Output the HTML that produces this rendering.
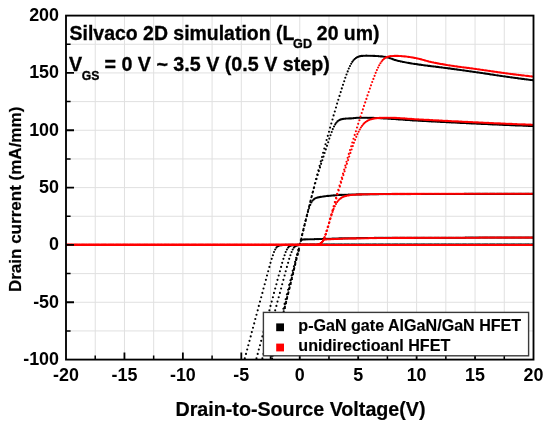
<!DOCTYPE html>
<html><head><meta charset="utf-8"><style>
html,body{margin:0;padding:0;background:#fff;}
svg{display:block;}
text{font-family:"Liberation Sans",Arial,sans-serif;font-weight:bold;fill:#000;}
</style></head><body>
<svg width="550" height="424" viewBox="0 0 550 424">
<rect width="550" height="424" fill="#fff"/>
<path d="M95.22 15.6V359.6M124.44 15.6V359.6M153.66 15.6V359.6M182.88 15.6V359.6M212.09 15.6V359.6M241.31 15.6V359.6M270.53 15.6V359.6M299.75 15.6V359.6M328.97 15.6V359.6M358.19 15.6V359.6M387.41 15.6V359.6M416.62 15.6V359.6M445.84 15.6V359.6M475.06 15.6V359.6M504.28 15.6V359.6M66.0 330.93H533.5M66.0 302.27H533.5M66.0 273.60H533.5M66.0 244.93H533.5M66.0 216.27H533.5M66.0 187.60H533.5M66.0 158.93H533.5M66.0 130.27H533.5M66.0 101.60H533.5M66.0 72.93H533.5M66.0 44.27H533.5" stroke="#e0e0e0" stroke-width="1" fill="none"/>
<clipPath id="c"><rect x="66.0" y="15.6" width="467.5" height="344.0"/></clipPath>
<g clip-path="url(#c)">
<g stroke="#000" stroke-width="2.15" stroke-linecap="round" fill="none"><path d="M244.8 358.2h0M246.0 353.9h0M247.2 349.5h0M248.3 345.2h0M249.5 340.8h0M250.7 336.4h0M251.8 332.1h0M253.0 327.7h0M254.2 323.4h0M255.3 319.0h0M256.5 314.7h0M257.7 310.3h0M258.8 305.9h0M260.0 301.6h0M261.2 297.2h0M262.4 292.9h0M263.5 288.5h0M264.7 284.2h0M265.9 279.8h0M267.0 275.5h0M268.2 271.2h0M269.4 266.9h0M270.5 262.8h0M271.7 258.8h0M272.9 255.2h0M274.0 252.0h0M275.2 249.5h0M276.4 247.6h0M277.5 246.5h0M278.7 245.8h0M279.9 245.4h0M281.1 245.2h0M282.2 245.1h0M283.4 245.0h0M284.6 245.0h0M285.7 244.9h0M286.9 244.9h0M288.1 244.9h0M289.2 244.9h0M290.4 244.9h0M291.6 244.9h0M292.7 244.9h0M293.9 244.9h0M295.1 244.9h0M296.2 244.9h0M297.4 244.9h0M298.6 244.9h0M299.8 244.9h0M300.9 244.9h0M302.1 244.9h0M303.3 244.9h0M304.4 244.9h0M305.6 244.9h0M306.8 244.9h0M307.9 244.9h0M309.1 244.9h0M310.3 244.9h0M311.4 244.9h0M312.6 244.9h0M313.8 244.9h0M314.9 244.9h0M316.1 244.9h0M317.3 244.9h0M318.4 244.9h0M319.6 244.9h0M320.8 244.9h0M322.0 244.9h0M323.1 244.9h0M324.3 244.9h0M325.5 244.9h0M326.6 244.9h0M327.8 244.9h0M329.0 244.9h0M330.1 244.9h0M331.3 244.9h0M332.5 244.9h0M333.6 244.9h0M334.8 244.9h0M336.0 244.9h0M337.1 244.9h0M338.3 244.9h0M339.5 244.9h0M340.7 244.9h0M341.8 244.9h0M343.0 244.9h0M344.2 244.9h0M345.3 244.9h0M346.5 244.9h0M347.7 244.9h0M348.8 244.9h0M350.0 244.9h0M351.2 244.9h0M352.3 244.9h0M353.5 244.9h0M354.7 244.9h0M355.9 244.9h0M357.0 244.9h0M358.2 244.9h0M359.4 244.9h0M360.5 244.9h0M361.7 244.9h0M362.9 244.9h0M364.0 244.9h0M365.2 244.9h0M366.4 244.9h0M367.5 244.9h0M368.7 244.9h0M369.9 244.9h0M371.0 244.9h0M372.2 244.9h0M373.4 244.9h0M374.6 244.9h0M375.7 244.9h0M376.9 244.9h0M378.1 244.9h0M379.2 244.9h0M380.4 244.9h0M381.6 244.9h0M382.7 244.9h0M383.9 244.9h0M385.1 244.9h0M386.2 244.9h0M387.4 244.9h0M388.6 244.9h0M389.7 244.9h0M390.9 244.9h0M392.1 244.9h0M393.2 244.9h0M394.4 244.9h0M395.6 244.9h0M396.8 244.9h0M397.9 244.9h0M399.1 244.9h0M400.3 244.9h0M401.4 244.9h0M402.6 244.9h0M403.8 244.9h0M404.9 244.9h0M406.1 244.9h0M407.3 244.9h0M408.4 244.9h0M409.6 244.9h0M410.8 244.9h0M411.9 244.9h0M413.1 244.9h0M414.3 244.9h0M415.5 244.9h0M416.6 244.9h0M417.8 244.9h0M419.0 244.9h0M420.1 244.9h0M421.3 244.9h0M422.5 244.9h0M423.6 244.9h0M424.8 244.9h0M426.0 244.9h0M427.1 244.9h0M428.3 244.9h0M429.5 244.9h0M430.6 244.9h0M431.8 244.9h0M433.0 244.9h0M434.2 244.9h0M435.3 244.9h0M436.5 244.9h0M437.7 244.9h0M438.8 244.9h0M440.0 244.9h0M441.2 244.9h0M442.3 244.9h0M443.5 244.9h0M444.7 244.9h0M445.8 244.9h0M447.0 244.9h0M448.2 244.9h0M449.3 244.9h0M450.5 244.9h0M451.7 244.9h0M452.9 244.9h0M454.0 244.9h0M455.2 244.9h0M456.4 244.9h0M457.5 244.9h0M458.7 244.9h0M459.9 244.9h0M461.0 244.9h0M462.2 244.9h0M463.4 244.9h0M464.5 244.9h0M465.7 244.9h0M466.9 244.9h0M468.1 244.9h0M469.2 244.9h0M470.4 244.9h0M471.6 244.9h0M472.7 244.9h0M473.9 244.9h0M475.1 244.9h0M476.2 244.9h0M477.4 244.9h0M478.6 244.9h0M479.7 244.9h0M480.9 244.9h0M482.1 244.9h0M483.2 244.9h0M484.4 244.9h0M485.6 244.9h0M486.8 244.9h0M487.9 244.9h0M489.1 244.9h0M490.3 244.9h0M491.4 244.9h0M492.6 244.9h0M493.8 244.9h0M494.9 244.9h0M496.1 244.9h0M497.3 244.9h0M498.4 244.9h0M499.6 244.9h0M500.8 244.9h0M501.9 244.9h0M503.1 244.9h0M504.3 244.9h0M505.4 244.9h0M506.6 244.9h0M507.8 244.9h0M509.0 244.9h0M510.1 244.9h0M511.3 244.9h0M512.5 244.9h0M513.6 244.9h0M514.8 244.9h0M516.0 244.9h0M517.1 244.9h0M518.3 244.9h0M519.5 244.9h0M520.6 244.9h0M521.8 244.9h0M523.0 244.9h0M524.1 244.9h0M525.3 244.9h0M526.5 244.9h0M527.7 244.9h0M528.8 244.9h0M530.0 244.9h0M531.2 244.9h0M532.3 244.9h0M533.5 244.9h0"/><path d="M256.5 358.2h0M257.7 353.9h0M258.8 349.5h0M260.0 345.2h0M261.2 340.8h0M262.4 336.4h0M263.5 332.1h0M264.7 327.7h0M265.9 323.4h0M267.0 319.0h0M268.2 314.7h0M269.4 310.3h0M270.5 305.9h0M271.7 301.6h0M272.9 297.2h0M274.0 292.9h0M275.2 288.5h0M276.4 284.2h0M277.5 279.8h0M278.7 275.5h0M279.9 271.2h0M281.1 266.9h0M282.2 262.8h0M283.4 258.8h0M284.6 255.2h0M285.7 252.0h0M286.9 249.5h0M288.1 247.6h0M289.2 246.5h0M290.4 245.8h0M291.6 245.4h0M292.7 245.2h0M293.9 245.1h0M295.1 245.0h0M296.2 245.0h0M297.4 244.9h0M298.6 244.9h0M299.8 244.9h0M300.9 244.9h0M302.1 244.9h0M303.3 244.9h0M304.4 244.9h0M305.6 244.9h0M306.8 244.9h0M307.9 244.9h0M309.1 244.9h0M310.3 244.9h0M311.4 244.9h0M312.6 244.9h0M313.8 244.9h0M314.9 244.9h0M316.1 244.9h0M317.3 244.9h0M318.4 244.9h0M319.6 244.9h0M320.8 244.9h0M322.0 244.9h0M323.1 244.9h0M324.3 244.9h0M325.5 244.9h0M326.6 244.9h0M327.8 244.9h0M329.0 244.9h0M330.1 244.9h0M331.3 244.9h0M332.5 244.9h0M333.6 244.9h0M334.8 244.9h0M336.0 244.9h0M337.1 244.9h0M338.3 244.9h0M339.5 244.9h0M340.7 244.9h0M341.8 244.9h0M343.0 244.9h0M344.2 244.9h0M345.3 244.9h0M346.5 244.9h0M347.7 244.9h0M348.8 244.9h0M350.0 244.9h0M351.2 244.9h0M352.3 244.9h0M353.5 244.9h0M354.7 244.9h0M355.9 244.9h0M357.0 244.9h0M358.2 244.9h0M359.4 244.9h0M360.5 244.9h0M361.7 244.9h0M362.9 244.9h0M364.0 244.9h0M365.2 244.9h0M366.4 244.9h0M367.5 244.9h0M368.7 244.9h0M369.9 244.9h0M371.0 244.9h0M372.2 244.9h0M373.4 244.9h0M374.6 244.9h0M375.7 244.9h0M376.9 244.9h0M378.1 244.9h0M379.2 244.9h0M380.4 244.9h0M381.6 244.9h0M382.7 244.9h0M383.9 244.9h0M385.1 244.9h0M386.2 244.9h0M387.4 244.9h0M388.6 244.9h0M389.7 244.9h0M390.9 244.9h0M392.1 244.9h0M393.2 244.9h0M394.4 244.9h0M395.6 244.9h0M396.8 244.9h0M397.9 244.9h0M399.1 244.9h0M400.3 244.9h0M401.4 244.9h0M402.6 244.9h0M403.8 244.9h0M404.9 244.9h0M406.1 244.9h0M407.3 244.9h0M408.4 244.9h0M409.6 244.9h0M410.8 244.9h0M411.9 244.9h0M413.1 244.9h0M414.3 244.9h0M415.5 244.9h0M416.6 244.9h0M417.8 244.9h0M419.0 244.9h0M420.1 244.9h0M421.3 244.9h0M422.5 244.9h0M423.6 244.9h0M424.8 244.9h0M426.0 244.9h0M427.1 244.9h0M428.3 244.9h0M429.5 244.9h0M430.6 244.9h0M431.8 244.9h0M433.0 244.9h0M434.2 244.9h0M435.3 244.9h0M436.5 244.9h0M437.7 244.9h0M438.8 244.9h0M440.0 244.9h0M441.2 244.9h0M442.3 244.9h0M443.5 244.9h0M444.7 244.9h0M445.8 244.9h0M447.0 244.9h0M448.2 244.9h0M449.3 244.9h0M450.5 244.9h0M451.7 244.9h0M452.9 244.9h0M454.0 244.9h0M455.2 244.9h0M456.4 244.9h0M457.5 244.9h0M458.7 244.9h0M459.9 244.9h0M461.0 244.9h0M462.2 244.9h0M463.4 244.9h0M464.5 244.9h0M465.7 244.9h0M466.9 244.9h0M468.1 244.9h0M469.2 244.9h0M470.4 244.9h0M471.6 244.9h0M472.7 244.9h0M473.9 244.9h0M475.1 244.9h0M476.2 244.9h0M477.4 244.9h0M478.6 244.9h0M479.7 244.9h0M480.9 244.9h0M482.1 244.9h0M483.2 244.9h0M484.4 244.9h0M485.6 244.9h0M486.8 244.9h0M487.9 244.9h0M489.1 244.9h0M490.3 244.9h0M491.4 244.9h0M492.6 244.9h0M493.8 244.9h0M494.9 244.9h0M496.1 244.9h0M497.3 244.9h0M498.4 244.9h0M499.6 244.9h0M500.8 244.9h0M501.9 244.9h0M503.1 244.9h0M504.3 244.9h0M505.4 244.9h0M506.6 244.9h0M507.8 244.9h0M509.0 244.9h0M510.1 244.9h0M511.3 244.9h0M512.5 244.9h0M513.6 244.9h0M514.8 244.9h0M516.0 244.9h0M517.1 244.9h0M518.3 244.9h0M519.5 244.9h0M520.6 244.9h0M521.8 244.9h0M523.0 244.9h0M524.1 244.9h0M525.3 244.9h0M526.5 244.9h0M527.7 244.9h0M528.8 244.9h0M530.0 244.9h0M531.2 244.9h0M532.3 244.9h0M533.5 244.9h0"/><path d="M262.4 358.2h0M263.5 353.9h0M264.7 349.5h0M265.9 345.2h0M267.0 340.8h0M268.2 336.4h0M269.4 332.1h0M270.5 327.7h0M271.7 323.4h0M272.9 319.0h0M274.0 314.7h0M275.2 310.3h0M276.4 305.9h0M277.5 301.6h0M278.7 297.2h0M279.9 292.9h0M281.1 288.5h0M282.2 284.2h0M283.4 279.8h0M284.6 275.5h0M285.7 271.2h0M286.9 266.9h0M288.1 262.8h0M289.2 258.8h0M290.4 255.2h0M291.6 252.0h0M292.7 249.5h0M293.9 247.6h0M295.1 246.5h0M296.2 245.8h0M297.4 245.4h0M298.6 245.2h0M299.8 244.9h0M300.9 244.9h0M302.1 244.9h0M303.3 244.9h0M304.4 244.9h0M305.6 244.9h0M306.8 244.9h0M307.9 244.9h0M309.1 244.9h0M310.3 244.9h0M311.4 244.9h0M312.6 244.9h0M313.8 244.9h0M314.9 244.9h0M316.1 244.9h0M317.3 244.9h0M318.4 244.9h0M319.6 244.9h0M320.8 244.9h0M322.0 244.9h0M323.1 244.9h0M324.3 244.9h0M325.5 244.9h0M326.6 244.9h0M327.8 244.9h0M329.0 244.9h0M330.1 244.9h0M331.3 244.9h0M332.5 244.9h0M333.6 244.9h0M334.8 244.9h0M336.0 244.9h0M337.1 244.9h0M338.3 244.9h0M339.5 244.9h0M340.7 244.9h0M341.8 244.9h0M343.0 244.9h0M344.2 244.9h0M345.3 244.9h0M346.5 244.9h0M347.7 244.9h0M348.8 244.9h0M350.0 244.9h0M351.2 244.9h0M352.3 244.9h0M353.5 244.9h0M354.7 244.9h0M355.9 244.9h0M357.0 244.9h0M358.2 244.9h0M359.4 244.9h0M360.5 244.9h0M361.7 244.9h0M362.9 244.9h0M364.0 244.9h0M365.2 244.9h0M366.4 244.9h0M367.5 244.9h0M368.7 244.9h0M369.9 244.9h0M371.0 244.9h0M372.2 244.9h0M373.4 244.9h0M374.6 244.9h0M375.7 244.9h0M376.9 244.9h0M378.1 244.9h0M379.2 244.9h0M380.4 244.9h0M381.6 244.9h0M382.7 244.9h0M383.9 244.9h0M385.1 244.9h0M386.2 244.9h0M387.4 244.9h0M388.6 244.9h0M389.7 244.9h0M390.9 244.9h0M392.1 244.9h0M393.2 244.9h0M394.4 244.9h0M395.6 244.9h0M396.8 244.9h0M397.9 244.9h0M399.1 244.9h0M400.3 244.9h0M401.4 244.9h0M402.6 244.9h0M403.8 244.9h0M404.9 244.9h0M406.1 244.9h0M407.3 244.9h0M408.4 244.9h0M409.6 244.9h0M410.8 244.9h0M411.9 244.9h0M413.1 244.9h0M414.3 244.9h0M415.5 244.9h0M416.6 244.9h0M417.8 244.9h0M419.0 244.9h0M420.1 244.9h0M421.3 244.9h0M422.5 244.9h0M423.6 244.9h0M424.8 244.9h0M426.0 244.9h0M427.1 244.9h0M428.3 244.9h0M429.5 244.9h0M430.6 244.9h0M431.8 244.9h0M433.0 244.9h0M434.2 244.9h0M435.3 244.9h0M436.5 244.9h0M437.7 244.9h0M438.8 244.9h0M440.0 244.9h0M441.2 244.9h0M442.3 244.9h0M443.5 244.9h0M444.7 244.9h0M445.8 244.9h0M447.0 244.9h0M448.2 244.9h0M449.3 244.9h0M450.5 244.9h0M451.7 244.9h0M452.9 244.9h0M454.0 244.9h0M455.2 244.9h0M456.4 244.9h0M457.5 244.9h0M458.7 244.9h0M459.9 244.9h0M461.0 244.9h0M462.2 244.9h0M463.4 244.9h0M464.5 244.9h0M465.7 244.9h0M466.9 244.9h0M468.1 244.9h0M469.2 244.9h0M470.4 244.9h0M471.6 244.9h0M472.7 244.9h0M473.9 244.9h0M475.1 244.9h0M476.2 244.9h0M477.4 244.9h0M478.6 244.9h0M479.7 244.9h0M480.9 244.9h0M482.1 244.9h0M483.2 244.9h0M484.4 244.9h0M485.6 244.9h0M486.8 244.9h0M487.9 244.9h0M489.1 244.9h0M490.3 244.9h0M491.4 244.9h0M492.6 244.9h0M493.8 244.9h0M494.9 244.9h0M496.1 244.9h0M497.3 244.9h0M498.4 244.9h0M499.6 244.9h0M500.8 244.9h0M501.9 244.9h0M503.1 244.9h0M504.3 244.9h0M505.4 244.9h0M506.6 244.9h0M507.8 244.9h0M509.0 244.9h0M510.1 244.9h0M511.3 244.9h0M512.5 244.9h0M513.6 244.9h0M514.8 244.9h0M516.0 244.9h0M517.1 244.9h0M518.3 244.9h0M519.5 244.9h0M520.6 244.9h0M521.8 244.9h0M523.0 244.9h0M524.1 244.9h0M525.3 244.9h0M526.5 244.9h0M527.7 244.9h0M528.8 244.9h0M530.0 244.9h0M531.2 244.9h0M532.3 244.9h0M533.5 244.9h0"/><path d="M271.7 356.3h0M272.9 351.5h0M274.0 346.8h0M275.2 342.0h0M276.4 337.3h0M277.5 332.5h0M278.7 327.7h0M279.9 323.0h0M281.1 318.2h0M282.2 313.5h0M283.4 308.7h0M284.6 303.9h0M285.7 299.2h0M286.9 294.4h0M288.1 289.7h0M289.2 284.9h0M290.4 280.2h0M291.6 275.5h0M292.7 270.8h0M293.9 266.2h0M295.1 261.8h0M296.2 257.7h0M297.4 254.0h0M298.6 250.9h0M299.8 244.9h0M300.9 244.9h0M302.1 244.9h0M303.3 244.9h0M304.4 244.9h0M305.6 244.9h0M306.8 244.9h0M307.9 244.9h0M309.1 244.9h0M310.3 244.9h0M311.4 244.9h0M312.6 244.9h0M313.8 244.9h0M314.9 244.9h0M316.1 244.9h0M317.3 244.9h0M318.4 244.9h0M319.6 244.9h0M320.8 244.9h0M322.0 244.9h0M323.1 244.9h0M324.3 244.9h0M325.5 244.9h0M326.6 244.9h0M327.8 244.9h0M329.0 244.9h0M330.1 244.9h0M331.3 244.9h0M332.5 244.9h0M333.6 244.9h0M334.8 244.9h0M336.0 244.9h0M337.1 244.9h0M338.3 244.9h0M339.5 244.9h0M340.7 244.9h0M341.8 244.9h0M343.0 244.9h0M344.2 244.9h0M345.3 244.9h0M346.5 244.9h0M347.7 244.9h0M348.8 244.9h0M350.0 244.9h0M351.2 244.9h0M352.3 244.9h0M353.5 244.9h0M354.7 244.9h0M355.9 244.9h0M357.0 244.9h0M358.2 244.9h0M359.4 244.9h0M360.5 244.9h0M361.7 244.9h0M362.9 244.9h0M364.0 244.9h0M365.2 244.9h0M366.4 244.9h0M367.5 244.9h0M368.7 244.9h0M369.9 244.9h0M371.0 244.9h0M372.2 244.9h0M373.4 244.9h0M374.6 244.9h0M375.7 244.9h0M376.9 244.9h0M378.1 244.9h0M379.2 244.9h0M380.4 244.9h0M381.6 244.9h0M382.7 244.9h0M383.9 244.9h0M385.1 244.9h0M386.2 244.9h0M387.4 244.9h0M388.6 244.9h0M389.7 244.9h0M390.9 244.9h0M392.1 244.9h0M393.2 244.9h0M394.4 244.9h0M395.6 244.9h0M396.8 244.9h0M397.9 244.9h0M399.1 244.9h0M400.3 244.9h0M401.4 244.9h0M402.6 244.9h0M403.8 244.9h0M404.9 244.9h0M406.1 244.9h0M407.3 244.9h0M408.4 244.9h0M409.6 244.9h0M410.8 244.9h0M411.9 244.9h0M413.1 244.9h0M414.3 244.9h0M415.5 244.9h0M416.6 244.9h0M417.8 244.9h0M419.0 244.9h0M420.1 244.9h0M421.3 244.9h0M422.5 244.9h0M423.6 244.9h0M424.8 244.9h0M426.0 244.9h0M427.1 244.9h0M428.3 244.9h0M429.5 244.9h0M430.6 244.9h0M431.8 244.9h0M433.0 244.9h0M434.2 244.9h0M435.3 244.9h0M436.5 244.9h0M437.7 244.9h0M438.8 244.9h0M440.0 244.9h0M441.2 244.9h0M442.3 244.9h0M443.5 244.9h0M444.7 244.9h0M445.8 244.9h0M447.0 244.9h0M448.2 244.9h0M449.3 244.9h0M450.5 244.9h0M451.7 244.9h0M452.9 244.9h0M454.0 244.9h0M455.2 244.9h0M456.4 244.9h0M457.5 244.9h0M458.7 244.9h0M459.9 244.9h0M461.0 244.9h0M462.2 244.9h0M463.4 244.9h0M464.5 244.9h0M465.7 244.9h0M466.9 244.9h0M468.1 244.9h0M469.2 244.9h0M470.4 244.9h0M471.6 244.9h0M472.7 244.9h0M473.9 244.9h0M475.1 244.9h0M476.2 244.9h0M477.4 244.9h0M478.6 244.9h0M479.7 244.9h0M480.9 244.9h0M482.1 244.9h0M483.2 244.9h0M484.4 244.9h0M485.6 244.9h0M486.8 244.9h0M487.9 244.9h0M489.1 244.9h0M490.3 244.9h0M491.4 244.9h0M492.6 244.9h0M493.8 244.9h0M494.9 244.9h0M496.1 244.9h0M497.3 244.9h0M498.4 244.9h0M499.6 244.9h0M500.8 244.9h0M501.9 244.9h0M503.1 244.9h0M504.3 244.9h0M505.4 244.9h0M506.6 244.9h0M507.8 244.9h0M509.0 244.9h0M510.1 244.9h0M511.3 244.9h0M512.5 244.9h0M513.6 244.9h0M514.8 244.9h0M516.0 244.9h0M517.1 244.9h0M518.3 244.9h0M519.5 244.9h0M520.6 244.9h0M521.8 244.9h0M523.0 244.9h0M524.1 244.9h0M525.3 244.9h0M526.5 244.9h0M527.7 244.9h0M528.8 244.9h0M530.0 244.9h0M531.2 244.9h0M532.3 244.9h0M533.5 244.9h0"/><path d="M271.7 360.0h0M272.9 355.3h0M274.0 350.6h0M275.2 345.9h0M276.4 341.3h0M277.5 336.5h0M278.7 331.8h0M279.9 327.1h0M281.1 322.4h0M282.2 317.6h0M283.4 312.8h0M284.6 308.1h0M285.7 303.3h0M286.9 298.5h0M288.1 293.7h0M289.2 288.8h0M290.4 284.0h0M291.6 279.2h0M292.7 274.3h0M293.9 269.4h0M295.1 264.6h0M296.2 259.7h0M297.4 254.8h0M298.6 249.9h0M299.8 244.9h0M300.9 241.0h0M302.1 239.8h0M303.3 239.5h0M304.4 239.4h0M305.6 239.3h0M306.8 239.3h0M307.9 239.3h0M309.1 239.2h0M310.3 239.2h0M311.4 239.2h0M312.6 239.2h0M313.8 239.2h0M314.9 239.1h0M316.1 239.1h0M317.3 239.1h0M318.4 239.1h0M319.6 239.0h0M320.8 239.0h0M322.0 239.0h0M323.1 238.9h0M324.3 238.9h0M325.5 238.9h0M326.6 238.8h0M327.8 238.8h0M329.0 238.7h0M330.1 238.7h0M331.3 238.7h0M332.5 238.6h0M333.6 238.6h0M334.8 238.6h0M336.0 238.5h0M337.1 238.5h0M338.3 238.5h0M339.5 238.4h0M340.7 238.4h0M341.8 238.4h0M343.0 238.3h0M344.2 238.3h0M345.3 238.3h0M346.5 238.3h0M347.7 238.3h0M348.8 238.2h0M350.0 238.2h0M351.2 238.2h0M352.3 238.2h0M353.5 238.2h0M354.7 238.2h0M355.9 238.2h0M357.0 238.1h0M358.2 238.1h0M359.4 238.1h0M360.5 238.1h0M361.7 238.1h0M362.9 238.1h0M364.0 238.1h0M365.2 238.0h0M366.4 238.0h0M367.5 238.0h0M368.7 238.0h0M369.9 238.0h0M371.0 238.0h0M372.2 238.0h0M373.4 238.0h0M374.6 237.9h0M375.7 237.9h0M376.9 237.9h0M378.1 237.9h0M379.2 237.9h0M380.4 237.9h0M381.6 237.9h0M382.7 237.9h0M383.9 237.9h0M385.1 237.9h0M386.2 237.9h0M387.4 237.8h0M388.6 237.8h0M389.7 237.8h0M390.9 237.8h0M392.1 237.8h0M393.2 237.8h0M394.4 237.8h0M395.6 237.8h0M396.8 237.8h0M397.9 237.8h0M399.1 237.8h0M400.3 237.8h0M401.4 237.8h0M402.6 237.8h0M403.8 237.8h0M404.9 237.8h0M406.1 237.8h0M407.3 237.8h0M408.4 237.8h0M409.6 237.8h0M410.8 237.8h0M411.9 237.8h0M413.1 237.8h0M414.3 237.8h0M415.5 237.8h0M416.6 237.8h0M417.8 237.8h0M419.0 237.7h0M420.1 237.7h0M421.3 237.7h0M422.5 237.7h0M423.6 237.7h0M424.8 237.7h0M426.0 237.7h0M427.1 237.7h0M428.3 237.7h0M429.5 237.7h0M430.6 237.7h0M431.8 237.7h0M433.0 237.7h0M434.2 237.7h0M435.3 237.7h0M436.5 237.7h0M437.7 237.7h0M438.8 237.7h0M440.0 237.7h0M441.2 237.7h0M442.3 237.7h0M443.5 237.7h0M444.7 237.7h0M445.8 237.7h0M447.0 237.7h0M448.2 237.7h0M449.3 237.7h0M450.5 237.7h0M451.7 237.7h0M452.9 237.7h0M454.0 237.7h0M455.2 237.7h0M456.4 237.7h0M457.5 237.7h0M458.7 237.7h0M459.9 237.7h0M461.0 237.7h0M462.2 237.7h0M463.4 237.7h0M464.5 237.7h0M465.7 237.6h0M466.9 237.6h0M468.1 237.6h0M469.2 237.6h0M470.4 237.6h0M471.6 237.6h0M472.7 237.6h0M473.9 237.6h0M475.1 237.6h0M476.2 237.6h0M477.4 237.6h0M478.6 237.6h0M479.7 237.6h0M480.9 237.6h0M482.1 237.6h0M483.2 237.6h0M484.4 237.6h0M485.6 237.6h0M486.8 237.6h0M487.9 237.6h0M489.1 237.6h0M490.3 237.6h0M491.4 237.6h0M492.6 237.6h0M493.8 237.6h0M494.9 237.6h0M496.1 237.6h0M497.3 237.6h0M498.4 237.6h0M499.6 237.6h0M500.8 237.6h0M501.9 237.6h0M503.1 237.6h0M504.3 237.6h0M505.4 237.6h0M506.6 237.6h0M507.8 237.6h0M509.0 237.6h0M510.1 237.6h0M511.3 237.6h0M512.5 237.6h0M513.6 237.6h0M514.8 237.6h0M516.0 237.6h0M517.1 237.6h0M518.3 237.6h0M519.5 237.6h0M520.6 237.6h0M521.8 237.6h0M523.0 237.6h0M524.1 237.6h0M525.3 237.6h0M526.5 237.6h0M527.7 237.6h0M528.8 237.6h0M530.0 237.6h0M531.2 237.6h0M532.3 237.6h0M533.5 237.6h0"/><path d="M271.7 360.0h0M272.9 355.3h0M274.0 350.6h0M275.2 345.9h0M276.4 341.3h0M277.5 336.5h0M278.7 331.8h0M279.9 327.1h0M281.1 322.4h0M282.2 317.6h0M283.4 312.8h0M284.6 308.1h0M285.7 303.3h0M286.9 298.5h0M288.1 293.7h0M289.2 288.8h0M290.4 284.0h0M291.6 279.2h0M292.7 274.3h0M293.9 269.4h0M295.1 264.6h0M296.2 259.7h0M297.4 254.8h0M298.6 249.9h0M299.8 244.9h0M300.9 240.0h0M302.1 235.1h0M303.3 230.3h0M304.4 225.5h0M305.6 220.8h0M306.8 216.2h0M307.9 211.9h0M309.1 208.0h0M310.3 204.8h0M311.4 202.4h0M312.6 200.6h0M313.8 199.4h0M314.9 198.6h0M316.1 198.0h0M317.3 197.6h0M318.4 197.3h0M319.6 197.1h0M320.8 196.9h0M322.0 196.7h0M323.1 196.5h0M324.3 196.3h0M325.5 196.2h0M326.6 196.0h0M327.8 195.9h0M329.0 195.8h0M330.1 195.7h0M331.3 195.6h0M332.5 195.5h0M333.6 195.4h0M334.8 195.3h0M336.0 195.2h0M337.1 195.1h0M338.3 195.0h0M339.5 194.9h0M340.7 194.9h0M341.8 194.8h0M343.0 194.8h0M344.2 194.8h0M345.3 194.7h0M346.5 194.7h0M347.7 194.7h0M348.8 194.6h0M350.0 194.6h0M351.2 194.6h0M352.3 194.5h0M353.5 194.5h0M354.7 194.5h0M355.9 194.5h0M357.0 194.4h0M358.2 194.4h0M359.4 194.4h0M360.5 194.4h0M361.7 194.3h0M362.9 194.3h0M364.0 194.3h0M365.2 194.3h0M366.4 194.3h0M367.5 194.3h0M368.7 194.2h0M369.9 194.2h0M371.0 194.2h0M372.2 194.2h0M373.4 194.2h0M374.6 194.2h0M375.7 194.2h0M376.9 194.2h0M378.1 194.2h0M379.2 194.1h0M380.4 194.1h0M381.6 194.1h0M382.7 194.1h0M383.9 194.1h0M385.1 194.1h0M386.2 194.1h0M387.4 194.1h0M388.6 194.1h0M389.7 194.1h0M390.9 194.1h0M392.1 194.1h0M393.2 194.1h0M394.4 194.1h0M395.6 194.1h0M396.8 194.1h0M397.9 194.1h0M399.1 194.1h0M400.3 194.1h0M401.4 194.1h0M402.6 194.1h0M403.8 194.1h0M404.9 194.1h0M406.1 194.1h0M407.3 194.1h0M408.4 194.1h0M409.6 194.1h0M410.8 194.1h0M411.9 194.0h0M413.1 194.0h0M414.3 194.0h0M415.5 194.0h0M416.6 194.0h0M417.8 194.0h0M419.0 194.0h0M420.1 194.0h0M421.3 194.0h0M422.5 194.0h0M423.6 194.0h0M424.8 194.0h0M426.0 194.0h0M427.1 194.0h0M428.3 194.0h0M429.5 194.0h0M430.6 194.0h0M431.8 194.0h0M433.0 194.0h0M434.2 194.0h0M435.3 194.0h0M436.5 194.0h0M437.7 194.0h0M438.8 194.0h0M440.0 194.0h0M441.2 194.0h0M442.3 194.0h0M443.5 194.0h0M444.7 194.0h0M445.8 194.0h0M447.0 194.0h0M448.2 194.0h0M449.3 194.0h0M450.5 194.0h0M451.7 194.0h0M452.9 194.0h0M454.0 194.0h0M455.2 194.0h0M456.4 194.0h0M457.5 194.0h0M458.7 194.0h0M459.9 194.0h0M461.0 194.0h0M462.2 194.0h0M463.4 194.0h0M464.5 193.9h0M465.7 193.9h0M466.9 193.9h0M468.1 193.9h0M469.2 193.9h0M470.4 193.9h0M471.6 193.9h0M472.7 193.9h0M473.9 193.9h0M475.1 193.9h0M476.2 193.9h0M477.4 193.9h0M478.6 193.9h0M479.7 193.9h0M480.9 193.9h0M482.1 193.9h0M483.2 193.9h0M484.4 193.9h0M485.6 193.9h0M486.8 193.9h0M487.9 193.9h0M489.1 193.9h0M490.3 193.9h0M491.4 193.9h0M492.6 193.9h0M493.8 193.9h0M494.9 193.9h0M496.1 193.9h0M497.3 193.9h0M498.4 193.9h0M499.6 193.9h0M500.8 193.9h0M501.9 193.9h0M503.1 193.9h0M504.3 193.9h0M505.4 193.9h0M506.6 193.9h0M507.8 193.9h0M509.0 193.9h0M510.1 193.9h0M511.3 193.9h0M512.5 193.9h0M513.6 193.9h0M514.8 193.9h0M516.0 193.9h0M517.1 193.9h0M518.3 193.9h0M519.5 193.9h0M520.6 193.9h0M521.8 193.9h0M523.0 193.9h0M524.1 193.9h0M525.3 193.9h0M526.5 193.9h0M527.7 193.9h0M528.8 193.9h0M530.0 193.9h0M531.2 193.9h0M532.3 193.9h0M533.5 193.9h0"/><path d="M272.1 358.6h0M273.2 353.9h0M274.4 349.2h0M275.6 344.5h0M276.7 339.8h0M277.9 335.1h0M279.1 330.4h0M280.2 325.7h0M281.4 320.9h0M282.6 316.2h0M283.7 311.4h0M284.9 306.6h0M286.1 301.8h0M287.2 297.0h0M288.4 292.2h0M289.6 287.4h0M290.8 282.6h0M291.9 277.7h0M293.1 272.9h0M294.3 268.0h0M295.4 263.1h0M296.6 258.2h0M297.8 253.3h0M298.9 248.5h0M300.1 243.5h0M301.3 238.6h0M302.4 233.7h0M303.6 228.8h0M304.8 224.0h0M305.9 219.3h0M307.1 214.5h0M308.3 209.8h0M309.5 205.2h0M310.6 200.6h0M311.8 196.1h0M313.0 191.6h0M314.1 187.3h0M315.3 183.0h0M316.5 178.9h0M317.6 174.9h0M318.8 171.1h0M320.0 167.4h0M321.1 163.8h0M322.3 160.2h0M323.5 156.6h0M324.6 153.0h0M325.8 149.4h0M327.0 145.8h0M328.2 142.2h0M329.3 138.6h0M330.5 135.2h0M331.7 132.0h0M332.8 129.1h0M334.0 126.5h0M335.2 124.4h0M336.3 122.7h0M337.5 121.4h0M338.7 120.5h0M339.8 119.9h0M341.0 119.4h0M342.2 119.1h0M343.3 118.9h0M344.5 118.7h0M345.7 118.6h0M346.9 118.5h0M348.0 118.5h0M349.2 118.4h0M350.4 118.4h0M351.5 118.3h0M352.7 118.2h0M353.9 118.1h0M355.0 118.0h0M356.2 117.8h0M357.4 117.7h0M358.5 117.7h0M359.7 117.7h0M360.9 117.7h0M362.0 117.7h0M363.2 117.7h0M364.4 117.7h0M365.6 117.7h0M366.7 117.7h0M367.9 117.8h0M369.1 117.8h0M370.2 117.8h0M371.4 117.9h0M372.6 117.9h0M373.7 117.9h0M374.9 118.0h0M376.1 118.0h0M377.2 118.0h0M378.4 118.1h0M379.6 118.1h0M380.7 118.2h0M381.9 118.3h0M383.1 118.3h0M384.3 118.4h0M385.4 118.4h0M386.6 118.5h0M387.8 118.6h0M388.9 118.7h0M390.1 118.7h0M391.3 118.8h0M392.4 118.9h0M393.6 119.0h0M394.8 119.0h0M395.9 119.1h0M397.1 119.2h0M398.3 119.3h0M399.4 119.4h0M400.6 119.5h0M401.8 119.5h0M403.0 119.6h0M404.1 119.7h0M405.3 119.8h0M406.5 119.9h0M407.6 120.0h0M408.8 120.0h0M410.0 120.1h0M411.1 120.2h0M412.3 120.3h0M413.5 120.4h0M414.6 120.4h0M415.8 120.5h0M417.0 120.6h0M418.1 120.6h0M419.3 120.7h0M420.5 120.8h0M421.7 120.8h0M422.8 120.9h0M424.0 121.0h0M425.2 121.0h0M426.3 121.1h0M427.5 121.1h0M428.7 121.2h0M429.8 121.3h0M431.0 121.3h0M432.2 121.4h0M433.3 121.4h0M434.5 121.5h0M435.7 121.6h0M436.8 121.6h0M438.0 121.7h0M439.2 121.7h0M440.4 121.8h0M441.5 121.9h0M442.7 121.9h0M443.9 122.0h0M445.0 122.0h0M446.2 122.1h0M447.4 122.2h0M448.5 122.2h0M449.7 122.3h0M450.9 122.3h0M452.0 122.4h0M453.2 122.5h0M454.4 122.5h0M455.5 122.6h0M456.7 122.6h0M457.9 122.7h0M459.1 122.8h0M460.2 122.8h0M461.4 122.9h0M462.6 122.9h0M463.7 123.0h0M464.9 123.0h0M466.1 123.1h0M467.2 123.2h0M468.4 123.2h0M469.6 123.3h0M470.7 123.3h0M471.9 123.4h0M473.1 123.4h0M474.2 123.5h0M475.4 123.5h0M476.6 123.6h0M477.8 123.7h0M478.9 123.7h0M480.1 123.8h0M481.3 123.8h0M482.4 123.9h0M483.6 123.9h0M484.8 124.0h0M485.9 124.0h0M487.1 124.1h0M488.3 124.1h0M489.4 124.2h0M490.6 124.3h0M491.8 124.3h0M492.9 124.4h0M494.1 124.4h0M495.3 124.5h0M496.5 124.5h0M497.6 124.6h0M498.8 124.6h0M500.0 124.7h0M501.1 124.7h0M502.3 124.8h0M503.5 124.8h0M504.6 124.9h0M505.8 124.9h0M507.0 125.0h0M508.1 125.0h0M509.3 125.1h0M510.5 125.1h0M511.6 125.2h0M512.8 125.2h0M514.0 125.3h0M515.2 125.3h0M516.3 125.4h0M517.5 125.4h0M518.7 125.4h0M519.8 125.5h0M521.0 125.5h0M522.2 125.6h0M523.3 125.6h0M524.5 125.7h0M525.7 125.7h0M526.8 125.8h0M528.0 125.8h0M529.2 125.9h0M530.3 125.9h0M531.5 125.9h0M532.7 126.0h0"/><path d="M271.7 360.0h0M272.9 355.3h0M274.0 350.6h0M275.2 345.9h0M276.4 341.3h0M277.5 336.5h0M278.7 331.8h0M279.9 327.1h0M281.1 322.4h0M282.2 317.6h0M283.4 312.8h0M284.6 308.1h0M285.7 303.3h0M286.9 298.5h0M288.1 293.7h0M289.2 288.8h0M290.4 284.0h0M291.6 279.2h0M292.7 274.3h0M293.9 269.4h0M295.1 264.6h0M296.2 259.7h0M297.4 254.8h0M298.6 249.9h0M299.8 244.9h0M300.9 240.0h0M302.1 235.1h0M303.3 230.3h0M304.4 225.5h0M305.6 220.7h0M306.8 215.9h0M307.9 211.2h0M309.1 206.5h0M310.3 201.9h0M311.4 197.2h0M312.6 192.6h0M313.8 188.1h0M314.9 183.5h0M316.1 179.1h0M317.3 174.6h0M318.4 170.2h0M319.6 165.8h0M320.8 161.4h0M322.0 157.0h0M323.1 152.7h0M324.3 148.5h0M325.5 144.2h0M326.6 140.0h0M327.8 135.8h0M329.0 131.7h0M330.1 127.6h0M331.3 123.5h0M332.5 119.5h0M333.6 115.4h0M334.8 111.5h0M336.0 107.5h0M337.1 103.6h0M338.3 99.7h0M339.5 95.9h0M340.7 92.1h0M341.8 88.4h0M343.0 84.8h0M344.2 81.2h0M345.3 77.7h0M346.5 74.5h0M347.7 71.4h0M348.8 68.5h0M350.0 66.0h0M351.2 63.7h0M352.3 61.8h0M353.5 60.3h0M354.7 59.0h0M355.9 58.1h0M357.0 57.3h0M358.2 56.8h0M359.4 56.4h0M360.5 56.1h0M361.7 55.9h0M362.9 55.8h0M364.0 55.7h0M365.2 55.7h0M366.4 55.6h0M367.5 55.7h0M368.7 55.7h0M369.9 55.7h0M371.0 55.8h0M372.2 55.8h0M373.4 55.8h0M374.6 55.9h0M375.7 56.0h0M376.9 56.0h0M378.1 56.1h0M379.2 56.2h0M380.4 56.3h0M381.6 56.4h0M382.7 56.5h0M383.9 56.7h0M385.1 56.8h0M386.2 57.1h0M387.4 57.4h0M388.6 57.7h0M389.7 58.1h0M390.9 58.5h0M392.1 58.9h0M393.2 59.4h0M394.4 59.8h0M395.6 60.1h0M396.8 60.5h0M397.9 60.8h0M399.1 61.0h0M400.3 61.3h0M401.4 61.5h0M402.6 61.8h0M403.8 62.0h0M404.9 62.2h0M406.1 62.5h0M407.3 62.7h0M408.4 62.9h0M409.6 63.1h0M410.8 63.3h0M411.9 63.5h0M413.1 63.7h0M414.3 63.9h0M415.5 64.0h0M416.6 64.2h0M417.8 64.4h0M419.0 64.6h0M420.1 64.7h0M421.3 64.9h0M422.5 65.0h0M423.6 65.2h0M424.8 65.4h0M426.0 65.5h0M427.1 65.6h0M428.3 65.8h0M429.5 65.9h0M430.6 66.1h0M431.8 66.2h0M433.0 66.4h0M434.2 66.5h0M435.3 66.6h0M436.5 66.8h0M437.7 66.9h0M438.8 67.1h0M440.0 67.2h0M441.2 67.4h0M442.3 67.5h0M443.5 67.7h0M444.7 67.8h0M445.8 68.0h0M447.0 68.1h0M448.2 68.3h0M449.3 68.4h0M450.5 68.6h0M451.7 68.8h0M452.9 68.9h0M454.0 69.1h0M455.2 69.2h0M456.4 69.4h0M457.5 69.6h0M458.7 69.7h0M459.9 69.9h0M461.0 70.0h0M462.2 70.2h0M463.4 70.4h0M464.5 70.5h0M465.7 70.7h0M466.9 70.9h0M468.1 71.0h0M469.2 71.2h0M470.4 71.4h0M471.6 71.5h0M472.7 71.7h0M473.9 71.9h0M475.1 72.0h0M476.2 72.2h0M477.4 72.4h0M478.6 72.5h0M479.7 72.7h0M480.9 72.9h0M482.1 73.0h0M483.2 73.2h0M484.4 73.4h0M485.6 73.6h0M486.8 73.7h0M487.9 73.9h0M489.1 74.1h0M490.3 74.3h0M491.4 74.5h0M492.6 74.6h0M493.8 74.8h0M494.9 75.0h0M496.1 75.2h0M497.3 75.3h0M498.4 75.5h0M499.6 75.7h0M500.8 75.9h0M501.9 76.0h0M503.1 76.2h0M504.3 76.4h0M505.4 76.5h0M506.6 76.7h0M507.8 76.9h0M509.0 77.0h0M510.1 77.2h0M511.3 77.4h0M512.5 77.5h0M513.6 77.7h0M514.8 77.8h0M516.0 78.0h0M517.1 78.1h0M518.3 78.3h0M519.5 78.5h0M520.6 78.6h0M521.8 78.8h0M523.0 78.9h0M524.1 79.1h0M525.3 79.2h0M526.5 79.4h0M527.7 79.5h0M528.8 79.7h0M530.0 79.8h0M531.2 80.0h0M532.3 80.1h0M533.5 80.3h0"/></g>
<path d="M66.0 244.93H533.5" stroke="#f00" stroke-width="2.0"/>
<g stroke="#f00" stroke-width="2.15" stroke-linecap="round" fill="none"><path d="M66.0 244.9h0M67.2 244.9h0M68.3 244.9h0M69.5 244.9h0M70.7 244.9h0M71.8 244.9h0M73.0 244.9h0M74.2 244.9h0M75.4 244.9h0M76.5 244.9h0M77.7 244.9h0M78.9 244.9h0M80.0 244.9h0M81.2 244.9h0M82.4 244.9h0M83.5 244.9h0M84.7 244.9h0M85.9 244.9h0M87.0 244.9h0M88.2 244.9h0M89.4 244.9h0M90.5 244.9h0M91.7 244.9h0M92.9 244.9h0M94.0 244.9h0M95.2 244.9h0M96.4 244.9h0M97.6 244.9h0M98.7 244.9h0M99.9 244.9h0M101.1 244.9h0M102.2 244.9h0M103.4 244.9h0M104.6 244.9h0M105.7 244.9h0M106.9 244.9h0M108.1 244.9h0M109.2 244.9h0M110.4 244.9h0M111.6 244.9h0M112.8 244.9h0M113.9 244.9h0M115.1 244.9h0M116.3 244.9h0M117.4 244.9h0M118.6 244.9h0M119.8 244.9h0M120.9 244.9h0M122.1 244.9h0M123.3 244.9h0M124.4 244.9h0M125.6 244.9h0M126.8 244.9h0M127.9 244.9h0M129.1 244.9h0M130.3 244.9h0M131.4 244.9h0M132.6 244.9h0M133.8 244.9h0M135.0 244.9h0M136.1 244.9h0M137.3 244.9h0M138.5 244.9h0M139.6 244.9h0M140.8 244.9h0M142.0 244.9h0M143.1 244.9h0M144.3 244.9h0M145.5 244.9h0M146.6 244.9h0M147.8 244.9h0M149.0 244.9h0M150.1 244.9h0M151.3 244.9h0M152.5 244.9h0M153.7 244.9h0M154.8 244.9h0M156.0 244.9h0M157.2 244.9h0M158.3 244.9h0M159.5 244.9h0M160.7 244.9h0M161.8 244.9h0M163.0 244.9h0M164.2 244.9h0M165.3 244.9h0M166.5 244.9h0M167.7 244.9h0M168.8 244.9h0M170.0 244.9h0M171.2 244.9h0M172.4 244.9h0M173.5 244.9h0M174.7 244.9h0M175.9 244.9h0M177.0 244.9h0M178.2 244.9h0M179.4 244.9h0M180.5 244.9h0M181.7 244.9h0M182.9 244.9h0M184.0 244.9h0M185.2 244.9h0M186.4 244.9h0M187.6 244.9h0M188.7 244.9h0M189.9 244.9h0M191.1 244.9h0M192.2 244.9h0M193.4 244.9h0M194.6 244.9h0M195.7 244.9h0M196.9 244.9h0M198.1 244.9h0M199.2 244.9h0M200.4 244.9h0M201.6 244.9h0M202.7 244.9h0M203.9 244.9h0M205.1 244.9h0M206.2 244.9h0M207.4 244.9h0M208.6 244.9h0M209.8 244.9h0M210.9 244.9h0M212.1 244.9h0M213.3 244.9h0M214.4 244.9h0M215.6 244.9h0M216.8 244.9h0M217.9 244.9h0M219.1 244.9h0M220.3 244.9h0M221.4 244.9h0M222.6 244.9h0M223.8 244.9h0M224.9 244.9h0M226.1 244.9h0M227.3 244.9h0M228.5 244.9h0M229.6 244.9h0M230.8 244.9h0M232.0 244.9h0M233.1 244.9h0M234.3 244.9h0M235.5 244.9h0M236.6 244.9h0M237.8 244.9h0M239.0 244.9h0M240.1 244.9h0M241.3 244.9h0M242.5 244.9h0M243.7 244.9h0M244.8 244.9h0M246.0 244.9h0M247.2 244.9h0M248.3 244.9h0M249.5 244.9h0M250.7 244.9h0M251.8 244.9h0M253.0 244.9h0M254.2 244.9h0M255.3 244.9h0M256.5 244.9h0M257.7 244.9h0M258.8 244.9h0M260.0 244.9h0M261.2 244.9h0M262.4 244.9h0M263.5 244.9h0M264.7 244.9h0M265.9 244.9h0M267.0 244.9h0M268.2 244.9h0M269.4 244.9h0M270.5 244.9h0M271.7 244.9h0M272.9 244.9h0M274.0 244.9h0M275.2 244.9h0M276.4 244.9h0M277.5 244.9h0M278.7 244.9h0M279.9 244.9h0M281.1 244.9h0M282.2 244.9h0M283.4 244.9h0M284.6 244.9h0M285.7 244.9h0M286.9 244.9h0M288.1 244.9h0M289.2 244.9h0M290.4 244.9h0M291.6 244.9h0M292.7 244.9h0M293.9 244.9h0M295.1 244.9h0M296.2 244.9h0M297.4 244.9h0M298.6 244.9h0M299.8 244.9h0M300.9 244.9h0M302.1 244.9h0M303.3 244.9h0M304.4 244.9h0M305.6 244.9h0M306.8 244.9h0M307.9 244.9h0M309.1 244.9h0M310.3 244.9h0M311.4 244.9h0M312.6 244.9h0M313.8 244.9h0M314.9 244.9h0M316.1 244.8h0M317.3 244.7h0M318.4 244.5h0M319.6 244.1h0M320.8 243.4h0M322.0 242.2h0M323.1 240.7h0M324.3 239.7h0M325.5 239.4h0M326.6 239.3h0M327.8 239.2h0M329.0 239.2h0M330.1 239.2h0M331.3 239.1h0M332.5 239.1h0M333.6 239.1h0M334.8 239.0h0M336.0 239.0h0M337.1 238.9h0M338.3 238.8h0M339.5 238.8h0M340.7 238.7h0M341.8 238.7h0M343.0 238.6h0M344.2 238.6h0M345.3 238.5h0M346.5 238.5h0M347.7 238.5h0M348.8 238.5h0M350.0 238.4h0M351.2 238.4h0M352.3 238.4h0M353.5 238.4h0M354.7 238.4h0M355.9 238.3h0M357.0 238.3h0M358.2 238.3h0M359.4 238.3h0M360.5 238.3h0M361.7 238.2h0M362.9 238.2h0M364.0 238.2h0M365.2 238.2h0M366.4 238.2h0M367.5 238.2h0M368.7 238.1h0M369.9 238.1h0M371.0 238.1h0M372.2 238.1h0M373.4 238.1h0M374.6 238.1h0M375.7 238.1h0M376.9 238.1h0M378.1 238.0h0M379.2 238.0h0M380.4 238.0h0M381.6 238.0h0M382.7 238.0h0M383.9 238.0h0M385.1 238.0h0M386.2 238.0h0M387.4 238.0h0M388.6 238.0h0M389.7 238.0h0M390.9 238.0h0M392.1 237.9h0M393.2 237.9h0M394.4 237.9h0M395.6 237.9h0M396.8 237.9h0M397.9 237.9h0M399.1 237.9h0M400.3 237.9h0M401.4 237.9h0M402.6 237.9h0M403.8 237.9h0M404.9 237.9h0M406.1 237.9h0M407.3 237.9h0M408.4 237.9h0M409.6 237.9h0M410.8 237.9h0M411.9 237.9h0M413.1 237.9h0M414.3 237.8h0M415.5 237.8h0M416.6 237.8h0M417.8 237.8h0M419.0 237.8h0M420.1 237.8h0M421.3 237.8h0M422.5 237.8h0M423.6 237.8h0M424.8 237.8h0M426.0 237.8h0M427.1 237.8h0M428.3 237.8h0M429.5 237.8h0M430.6 237.8h0M431.8 237.8h0M433.0 237.8h0M434.2 237.8h0M435.3 237.8h0M436.5 237.8h0M437.7 237.8h0M438.8 237.8h0M440.0 237.8h0M441.2 237.8h0M442.3 237.7h0M443.5 237.7h0M444.7 237.7h0M445.8 237.7h0M447.0 237.7h0M448.2 237.7h0M449.3 237.7h0M450.5 237.7h0M451.7 237.7h0M452.9 237.7h0M454.0 237.7h0M455.2 237.7h0M456.4 237.7h0M457.5 237.7h0M458.7 237.7h0M459.9 237.7h0M461.0 237.7h0M462.2 237.7h0M463.4 237.7h0M464.5 237.7h0M465.7 237.7h0M466.9 237.7h0M468.1 237.7h0M469.2 237.7h0M470.4 237.7h0M471.6 237.7h0M472.7 237.7h0M473.9 237.7h0M475.1 237.7h0M476.2 237.7h0M477.4 237.7h0M478.6 237.7h0M479.7 237.6h0M480.9 237.6h0M482.1 237.6h0M483.2 237.6h0M484.4 237.6h0M485.6 237.6h0M486.8 237.6h0M487.9 237.6h0M489.1 237.6h0M490.3 237.6h0M491.4 237.6h0M492.6 237.6h0M493.8 237.6h0M494.9 237.6h0M496.1 237.6h0M497.3 237.6h0M498.4 237.6h0M499.6 237.6h0M500.8 237.6h0M501.9 237.6h0M503.1 237.6h0M504.3 237.6h0M505.4 237.6h0M506.6 237.6h0M507.8 237.6h0M509.0 237.6h0M510.1 237.6h0M511.3 237.6h0M512.5 237.6h0M513.6 237.6h0M514.8 237.6h0M516.0 237.6h0M517.1 237.6h0M518.3 237.6h0M519.5 237.6h0M520.6 237.6h0M521.8 237.6h0M523.0 237.6h0M524.1 237.6h0M525.3 237.6h0M526.5 237.6h0M527.7 237.6h0M528.8 237.6h0M530.0 237.6h0M531.2 237.6h0M532.3 237.6h0M533.5 237.6h0"/><path d="M66.0 244.9h0M67.2 244.9h0M68.3 244.9h0M69.5 244.9h0M70.7 244.9h0M71.8 244.9h0M73.0 244.9h0M74.2 244.9h0M75.4 244.9h0M76.5 244.9h0M77.7 244.9h0M78.9 244.9h0M80.0 244.9h0M81.2 244.9h0M82.4 244.9h0M83.5 244.9h0M84.7 244.9h0M85.9 244.9h0M87.0 244.9h0M88.2 244.9h0M89.4 244.9h0M90.5 244.9h0M91.7 244.9h0M92.9 244.9h0M94.0 244.9h0M95.2 244.9h0M96.4 244.9h0M97.6 244.9h0M98.7 244.9h0M99.9 244.9h0M101.1 244.9h0M102.2 244.9h0M103.4 244.9h0M104.6 244.9h0M105.7 244.9h0M106.9 244.9h0M108.1 244.9h0M109.2 244.9h0M110.4 244.9h0M111.6 244.9h0M112.8 244.9h0M113.9 244.9h0M115.1 244.9h0M116.3 244.9h0M117.4 244.9h0M118.6 244.9h0M119.8 244.9h0M120.9 244.9h0M122.1 244.9h0M123.3 244.9h0M124.4 244.9h0M125.6 244.9h0M126.8 244.9h0M127.9 244.9h0M129.1 244.9h0M130.3 244.9h0M131.4 244.9h0M132.6 244.9h0M133.8 244.9h0M135.0 244.9h0M136.1 244.9h0M137.3 244.9h0M138.5 244.9h0M139.6 244.9h0M140.8 244.9h0M142.0 244.9h0M143.1 244.9h0M144.3 244.9h0M145.5 244.9h0M146.6 244.9h0M147.8 244.9h0M149.0 244.9h0M150.1 244.9h0M151.3 244.9h0M152.5 244.9h0M153.7 244.9h0M154.8 244.9h0M156.0 244.9h0M157.2 244.9h0M158.3 244.9h0M159.5 244.9h0M160.7 244.9h0M161.8 244.9h0M163.0 244.9h0M164.2 244.9h0M165.3 244.9h0M166.5 244.9h0M167.7 244.9h0M168.8 244.9h0M170.0 244.9h0M171.2 244.9h0M172.4 244.9h0M173.5 244.9h0M174.7 244.9h0M175.9 244.9h0M177.0 244.9h0M178.2 244.9h0M179.4 244.9h0M180.5 244.9h0M181.7 244.9h0M182.9 244.9h0M184.0 244.9h0M185.2 244.9h0M186.4 244.9h0M187.6 244.9h0M188.7 244.9h0M189.9 244.9h0M191.1 244.9h0M192.2 244.9h0M193.4 244.9h0M194.6 244.9h0M195.7 244.9h0M196.9 244.9h0M198.1 244.9h0M199.2 244.9h0M200.4 244.9h0M201.6 244.9h0M202.7 244.9h0M203.9 244.9h0M205.1 244.9h0M206.2 244.9h0M207.4 244.9h0M208.6 244.9h0M209.8 244.9h0M210.9 244.9h0M212.1 244.9h0M213.3 244.9h0M214.4 244.9h0M215.6 244.9h0M216.8 244.9h0M217.9 244.9h0M219.1 244.9h0M220.3 244.9h0M221.4 244.9h0M222.6 244.9h0M223.8 244.9h0M224.9 244.9h0M226.1 244.9h0M227.3 244.9h0M228.5 244.9h0M229.6 244.9h0M230.8 244.9h0M232.0 244.9h0M233.1 244.9h0M234.3 244.9h0M235.5 244.9h0M236.6 244.9h0M237.8 244.9h0M239.0 244.9h0M240.1 244.9h0M241.3 244.9h0M242.5 244.9h0M243.7 244.9h0M244.8 244.9h0M246.0 244.9h0M247.2 244.9h0M248.3 244.9h0M249.5 244.9h0M250.7 244.9h0M251.8 244.9h0M253.0 244.9h0M254.2 244.9h0M255.3 244.9h0M256.5 244.9h0M257.7 244.9h0M258.8 244.9h0M260.0 244.9h0M261.2 244.9h0M262.4 244.9h0M263.5 244.9h0M264.7 244.9h0M265.9 244.9h0M267.0 244.9h0M268.2 244.9h0M269.4 244.9h0M270.5 244.9h0M271.7 244.9h0M272.9 244.9h0M274.0 244.9h0M275.2 244.9h0M276.4 244.9h0M277.5 244.9h0M278.7 244.9h0M279.9 244.9h0M281.1 244.9h0M282.2 244.9h0M283.4 244.9h0M284.6 244.9h0M285.7 244.9h0M286.9 244.9h0M288.1 244.9h0M289.2 244.9h0M290.4 244.9h0M291.6 244.9h0M292.7 244.9h0M293.9 244.9h0M295.1 244.9h0M296.2 244.9h0M297.4 244.9h0M298.6 244.9h0M299.8 244.9h0M300.9 244.9h0M302.1 244.9h0M303.3 244.9h0M304.4 244.9h0M305.6 244.9h0M306.8 244.9h0M307.9 244.9h0M309.1 244.9h0M310.3 244.9h0M311.4 244.9h0M312.6 244.9h0M313.8 244.9h0M314.9 244.9h0M316.1 244.8h0M317.3 244.7h0M318.4 244.5h0M319.6 244.1h0M320.8 243.4h0M322.0 242.2h0M323.1 240.4h0M324.3 237.8h0M325.5 234.6h0M326.6 231.0h0M327.8 227.1h0M329.0 223.1h0M330.1 219.2h0M331.3 215.5h0M332.5 212.0h0M333.6 208.9h0M334.8 206.2h0M336.0 204.0h0M337.1 202.1h0M338.3 200.6h0M339.5 199.3h0M340.7 198.4h0M341.8 197.6h0M343.0 197.0h0M344.2 196.5h0M345.3 196.1h0M346.5 195.8h0M347.7 195.5h0M348.8 195.3h0M350.0 195.1h0M351.2 195.0h0M352.3 194.8h0M353.5 194.7h0M354.7 194.7h0M355.9 194.6h0M357.0 194.5h0M358.2 194.5h0M359.4 194.4h0M360.5 194.4h0M361.7 194.3h0M362.9 194.3h0M364.0 194.3h0M365.2 194.2h0M366.4 194.2h0M367.5 194.2h0M368.7 194.2h0M369.9 194.1h0M371.0 194.1h0M372.2 194.1h0M373.4 194.1h0M374.6 194.1h0M375.7 194.1h0M376.9 194.1h0M378.1 194.0h0M379.2 194.0h0M380.4 194.0h0M381.6 194.0h0M382.7 194.0h0M383.9 194.0h0M385.1 194.0h0M386.2 194.0h0M387.4 194.0h0M388.6 194.0h0M389.7 194.0h0M390.9 194.0h0M392.1 193.9h0M393.2 193.9h0M394.4 193.9h0M395.6 193.9h0M396.8 193.9h0M397.9 193.9h0M399.1 193.9h0M400.3 193.9h0M401.4 193.9h0M402.6 193.9h0M403.8 193.9h0M404.9 193.9h0M406.1 193.9h0M407.3 193.9h0M408.4 193.9h0M409.6 193.9h0M410.8 193.9h0M411.9 193.9h0M413.1 193.9h0M414.3 193.9h0M415.5 193.9h0M416.6 193.9h0M417.8 193.9h0M419.0 193.9h0M420.1 193.9h0M421.3 193.8h0M422.5 193.8h0M423.6 193.8h0M424.8 193.8h0M426.0 193.8h0M427.1 193.8h0M428.3 193.8h0M429.5 193.8h0M430.6 193.8h0M431.8 193.8h0M433.0 193.8h0M434.2 193.8h0M435.3 193.8h0M436.5 193.8h0M437.7 193.8h0M438.8 193.8h0M440.0 193.8h0M441.2 193.8h0M442.3 193.8h0M443.5 193.8h0M444.7 193.8h0M445.8 193.8h0M447.0 193.8h0M448.2 193.8h0M449.3 193.8h0M450.5 193.8h0M451.7 193.8h0M452.9 193.8h0M454.0 193.8h0M455.2 193.8h0M456.4 193.8h0M457.5 193.8h0M458.7 193.8h0M459.9 193.8h0M461.0 193.8h0M462.2 193.8h0M463.4 193.8h0M464.5 193.7h0M465.7 193.7h0M466.9 193.7h0M468.1 193.7h0M469.2 193.7h0M470.4 193.7h0M471.6 193.7h0M472.7 193.7h0M473.9 193.7h0M475.1 193.7h0M476.2 193.7h0M477.4 193.7h0M478.6 193.7h0M479.7 193.7h0M480.9 193.7h0M482.1 193.7h0M483.2 193.7h0M484.4 193.7h0M485.6 193.7h0M486.8 193.7h0M487.9 193.7h0M489.1 193.7h0M490.3 193.7h0M491.4 193.7h0M492.6 193.7h0M493.8 193.7h0M494.9 193.7h0M496.1 193.7h0M497.3 193.7h0M498.4 193.7h0M499.6 193.7h0M500.8 193.7h0M501.9 193.7h0M503.1 193.7h0M504.3 193.7h0M505.4 193.7h0M506.6 193.7h0M507.8 193.7h0M509.0 193.7h0M510.1 193.7h0M511.3 193.7h0M512.5 193.7h0M513.6 193.7h0M514.8 193.7h0M516.0 193.7h0M517.1 193.7h0M518.3 193.7h0M519.5 193.7h0M520.6 193.7h0M521.8 193.7h0M523.0 193.7h0M524.1 193.7h0M525.3 193.7h0M526.5 193.7h0M527.7 193.7h0M528.8 193.7h0M530.0 193.7h0M531.2 193.7h0M532.3 193.7h0M533.5 193.7h0"/><path d="M66.4 244.9h0M67.6 244.9h0M68.7 244.9h0M69.9 244.9h0M71.1 244.9h0M72.3 244.9h0M73.4 244.9h0M74.6 244.9h0M75.8 244.9h0M76.9 244.9h0M78.1 244.9h0M79.3 244.9h0M80.4 244.9h0M81.6 244.9h0M82.8 244.9h0M83.9 244.9h0M85.1 244.9h0M86.3 244.9h0M87.4 244.9h0M88.6 244.9h0M89.8 244.9h0M91.0 244.9h0M92.1 244.9h0M93.3 244.9h0M94.5 244.9h0M95.6 244.9h0M96.8 244.9h0M98.0 244.9h0M99.1 244.9h0M100.3 244.9h0M101.5 244.9h0M102.6 244.9h0M103.8 244.9h0M105.0 244.9h0M106.1 244.9h0M107.3 244.9h0M108.5 244.9h0M109.7 244.9h0M110.8 244.9h0M112.0 244.9h0M113.2 244.9h0M114.3 244.9h0M115.5 244.9h0M116.7 244.9h0M117.8 244.9h0M119.0 244.9h0M120.2 244.9h0M121.3 244.9h0M122.5 244.9h0M123.7 244.9h0M124.8 244.9h0M126.0 244.9h0M127.2 244.9h0M128.4 244.9h0M129.5 244.9h0M130.7 244.9h0M131.9 244.9h0M133.0 244.9h0M134.2 244.9h0M135.4 244.9h0M136.5 244.9h0M137.7 244.9h0M138.9 244.9h0M140.0 244.9h0M141.2 244.9h0M142.4 244.9h0M143.5 244.9h0M144.7 244.9h0M145.9 244.9h0M147.1 244.9h0M148.2 244.9h0M149.4 244.9h0M150.6 244.9h0M151.7 244.9h0M152.9 244.9h0M154.1 244.9h0M155.2 244.9h0M156.4 244.9h0M157.6 244.9h0M158.7 244.9h0M159.9 244.9h0M161.1 244.9h0M162.2 244.9h0M163.4 244.9h0M164.6 244.9h0M165.8 244.9h0M166.9 244.9h0M168.1 244.9h0M169.3 244.9h0M170.4 244.9h0M171.6 244.9h0M172.8 244.9h0M173.9 244.9h0M175.1 244.9h0M176.3 244.9h0M177.4 244.9h0M178.6 244.9h0M179.8 244.9h0M180.9 244.9h0M182.1 244.9h0M183.3 244.9h0M184.5 244.9h0M185.6 244.9h0M186.8 244.9h0M188.0 244.9h0M189.1 244.9h0M190.3 244.9h0M191.5 244.9h0M192.6 244.9h0M193.8 244.9h0M195.0 244.9h0M196.1 244.9h0M197.3 244.9h0M198.5 244.9h0M199.6 244.9h0M200.8 244.9h0M202.0 244.9h0M203.2 244.9h0M204.3 244.9h0M205.5 244.9h0M206.7 244.9h0M207.8 244.9h0M209.0 244.9h0M210.2 244.9h0M211.3 244.9h0M212.5 244.9h0M213.7 244.9h0M214.8 244.9h0M216.0 244.9h0M217.2 244.9h0M218.3 244.9h0M219.5 244.9h0M220.7 244.9h0M221.9 244.9h0M223.0 244.9h0M224.2 244.9h0M225.4 244.9h0M226.5 244.9h0M227.7 244.9h0M228.9 244.9h0M230.0 244.9h0M231.2 244.9h0M232.4 244.9h0M233.5 244.9h0M234.7 244.9h0M235.9 244.9h0M237.0 244.9h0M238.2 244.9h0M239.4 244.9h0M240.6 244.9h0M241.7 244.9h0M242.9 244.9h0M244.1 244.9h0M245.2 244.9h0M246.4 244.9h0M247.6 244.9h0M248.7 244.9h0M249.9 244.9h0M251.1 244.9h0M252.2 244.9h0M253.4 244.9h0M254.6 244.9h0M255.7 244.9h0M256.9 244.9h0M258.1 244.9h0M259.3 244.9h0M260.4 244.9h0M261.6 244.9h0M262.8 244.9h0M263.9 244.9h0M265.1 244.9h0M266.3 244.9h0M267.4 244.9h0M268.6 244.9h0M269.8 244.9h0M270.9 244.9h0M272.1 244.9h0M273.3 244.9h0M274.4 244.9h0M275.6 244.9h0M276.8 244.9h0M278.0 244.9h0M279.1 244.9h0M280.3 244.9h0M281.5 244.9h0M282.6 244.9h0M283.8 244.9h0M285.0 244.9h0M286.1 244.9h0M287.3 244.9h0M288.5 244.9h0M289.6 244.9h0M290.8 244.9h0M292.0 244.9h0M293.1 244.9h0M294.3 244.9h0M295.5 244.9h0M296.7 244.9h0M297.8 244.9h0M299.0 244.9h0M300.2 244.9h0M301.3 244.9h0M302.5 244.9h0M303.7 244.9h0M304.8 244.9h0M306.0 244.9h0M307.2 244.9h0M308.3 244.9h0M309.5 244.9h0M310.7 244.9h0M311.8 244.9h0M313.0 244.9h0M314.2 244.9h0M315.4 244.9h0M316.5 244.8h0M317.7 244.7h0M318.9 244.4h0M320.0 243.9h0M321.2 243.1h0M322.4 241.8h0M323.5 239.8h0M324.7 237.1h0M325.9 233.9h0M327.0 230.2h0M328.2 226.4h0M329.4 222.4h0M330.5 218.4h0M331.7 214.4h0M332.9 210.4h0M334.1 206.4h0M335.2 202.4h0M336.4 198.4h0M337.6 194.4h0M338.7 190.5h0M339.9 186.6h0M341.1 182.7h0M342.2 178.9h0M343.4 175.1h0M344.6 171.3h0M345.7 167.5h0M346.9 163.8h0M348.1 160.1h0M349.2 156.5h0M350.4 152.9h0M351.6 149.5h0M352.8 146.1h0M353.9 142.8h0M355.1 139.8h0M356.3 136.8h0M357.4 134.1h0M358.6 131.7h0M359.8 129.5h0M360.9 127.5h0M362.1 125.8h0M363.3 124.3h0M364.4 123.1h0M365.6 122.1h0M366.8 121.2h0M367.9 120.6h0M369.1 120.0h0M370.3 119.5h0M371.5 119.2h0M372.6 118.8h0M373.8 118.6h0M375.0 118.4h0M376.1 118.2h0M377.3 118.1h0M378.5 118.0h0M379.6 117.9h0M380.8 117.9h0M382.0 117.8h0M383.1 117.8h0M384.3 117.7h0M385.5 117.7h0M386.6 117.7h0M387.8 117.7h0M389.0 117.7h0M390.2 117.7h0M391.3 117.7h0M392.5 117.8h0M393.7 117.8h0M394.8 117.9h0M396.0 117.9h0M397.2 118.0h0M398.3 118.0h0M399.5 118.1h0M400.7 118.2h0M401.8 118.3h0M403.0 118.3h0M404.2 118.4h0M405.3 118.5h0M406.5 118.6h0M407.7 118.7h0M408.9 118.7h0M410.0 118.8h0M411.2 118.9h0M412.4 119.0h0M413.5 119.1h0M414.7 119.2h0M415.9 119.2h0M417.0 119.3h0M418.2 119.4h0M419.4 119.5h0M420.5 119.5h0M421.7 119.6h0M422.9 119.6h0M424.0 119.7h0M425.2 119.8h0M426.4 119.8h0M427.6 119.9h0M428.7 119.9h0M429.9 120.0h0M431.1 120.1h0M432.2 120.1h0M433.4 120.2h0M434.6 120.3h0M435.7 120.3h0M436.9 120.4h0M438.1 120.4h0M439.2 120.5h0M440.4 120.6h0M441.6 120.6h0M442.7 120.7h0M443.9 120.7h0M445.1 120.8h0M446.3 120.9h0M447.4 120.9h0M448.6 121.0h0M449.8 121.0h0M450.9 121.1h0M452.1 121.2h0M453.3 121.2h0M454.4 121.3h0M455.6 121.3h0M456.8 121.4h0M457.9 121.4h0M459.1 121.5h0M460.3 121.6h0M461.4 121.6h0M462.6 121.7h0M463.8 121.7h0M465.0 121.8h0M466.1 121.9h0M467.3 121.9h0M468.5 122.0h0M469.6 122.0h0M470.8 122.1h0M472.0 122.1h0M473.1 122.2h0M474.3 122.2h0M475.5 122.3h0M476.6 122.4h0M477.8 122.4h0M479.0 122.5h0M480.1 122.5h0M481.3 122.6h0M482.5 122.6h0M483.7 122.7h0M484.8 122.7h0M486.0 122.8h0M487.2 122.8h0M488.3 122.9h0M489.5 123.0h0M490.7 123.0h0M491.8 123.1h0M493.0 123.1h0M494.2 123.2h0M495.3 123.2h0M496.5 123.3h0M497.7 123.3h0M498.8 123.4h0M500.0 123.4h0M501.2 123.5h0M502.4 123.5h0M503.5 123.6h0M504.7 123.6h0M505.9 123.7h0M507.0 123.7h0M508.2 123.8h0M509.4 123.8h0M510.5 123.9h0M511.7 123.9h0M512.9 124.0h0M514.0 124.0h0M515.2 124.1h0M516.4 124.1h0M517.5 124.2h0M518.7 124.2h0M519.9 124.2h0M521.1 124.3h0M522.2 124.3h0M523.4 124.4h0M524.6 124.4h0M525.7 124.5h0M526.9 124.5h0M528.1 124.6h0M529.2 124.6h0M530.4 124.6h0M531.6 124.7h0M532.7 124.7h0"/><path d="M66.0 244.9h0M67.2 244.9h0M68.3 244.9h0M69.5 244.9h0M70.7 244.9h0M71.8 244.9h0M73.0 244.9h0M74.2 244.9h0M75.4 244.9h0M76.5 244.9h0M77.7 244.9h0M78.9 244.9h0M80.0 244.9h0M81.2 244.9h0M82.4 244.9h0M83.5 244.9h0M84.7 244.9h0M85.9 244.9h0M87.0 244.9h0M88.2 244.9h0M89.4 244.9h0M90.5 244.9h0M91.7 244.9h0M92.9 244.9h0M94.0 244.9h0M95.2 244.9h0M96.4 244.9h0M97.6 244.9h0M98.7 244.9h0M99.9 244.9h0M101.1 244.9h0M102.2 244.9h0M103.4 244.9h0M104.6 244.9h0M105.7 244.9h0M106.9 244.9h0M108.1 244.9h0M109.2 244.9h0M110.4 244.9h0M111.6 244.9h0M112.8 244.9h0M113.9 244.9h0M115.1 244.9h0M116.3 244.9h0M117.4 244.9h0M118.6 244.9h0M119.8 244.9h0M120.9 244.9h0M122.1 244.9h0M123.3 244.9h0M124.4 244.9h0M125.6 244.9h0M126.8 244.9h0M127.9 244.9h0M129.1 244.9h0M130.3 244.9h0M131.4 244.9h0M132.6 244.9h0M133.8 244.9h0M135.0 244.9h0M136.1 244.9h0M137.3 244.9h0M138.5 244.9h0M139.6 244.9h0M140.8 244.9h0M142.0 244.9h0M143.1 244.9h0M144.3 244.9h0M145.5 244.9h0M146.6 244.9h0M147.8 244.9h0M149.0 244.9h0M150.1 244.9h0M151.3 244.9h0M152.5 244.9h0M153.7 244.9h0M154.8 244.9h0M156.0 244.9h0M157.2 244.9h0M158.3 244.9h0M159.5 244.9h0M160.7 244.9h0M161.8 244.9h0M163.0 244.9h0M164.2 244.9h0M165.3 244.9h0M166.5 244.9h0M167.7 244.9h0M168.8 244.9h0M170.0 244.9h0M171.2 244.9h0M172.4 244.9h0M173.5 244.9h0M174.7 244.9h0M175.9 244.9h0M177.0 244.9h0M178.2 244.9h0M179.4 244.9h0M180.5 244.9h0M181.7 244.9h0M182.9 244.9h0M184.0 244.9h0M185.2 244.9h0M186.4 244.9h0M187.6 244.9h0M188.7 244.9h0M189.9 244.9h0M191.1 244.9h0M192.2 244.9h0M193.4 244.9h0M194.6 244.9h0M195.7 244.9h0M196.9 244.9h0M198.1 244.9h0M199.2 244.9h0M200.4 244.9h0M201.6 244.9h0M202.7 244.9h0M203.9 244.9h0M205.1 244.9h0M206.2 244.9h0M207.4 244.9h0M208.6 244.9h0M209.8 244.9h0M210.9 244.9h0M212.1 244.9h0M213.3 244.9h0M214.4 244.9h0M215.6 244.9h0M216.8 244.9h0M217.9 244.9h0M219.1 244.9h0M220.3 244.9h0M221.4 244.9h0M222.6 244.9h0M223.8 244.9h0M224.9 244.9h0M226.1 244.9h0M227.3 244.9h0M228.5 244.9h0M229.6 244.9h0M230.8 244.9h0M232.0 244.9h0M233.1 244.9h0M234.3 244.9h0M235.5 244.9h0M236.6 244.9h0M237.8 244.9h0M239.0 244.9h0M240.1 244.9h0M241.3 244.9h0M242.5 244.9h0M243.7 244.9h0M244.8 244.9h0M246.0 244.9h0M247.2 244.9h0M248.3 244.9h0M249.5 244.9h0M250.7 244.9h0M251.8 244.9h0M253.0 244.9h0M254.2 244.9h0M255.3 244.9h0M256.5 244.9h0M257.7 244.9h0M258.8 244.9h0M260.0 244.9h0M261.2 244.9h0M262.4 244.9h0M263.5 244.9h0M264.7 244.9h0M265.9 244.9h0M267.0 244.9h0M268.2 244.9h0M269.4 244.9h0M270.5 244.9h0M271.7 244.9h0M272.9 244.9h0M274.0 244.9h0M275.2 244.9h0M276.4 244.9h0M277.5 244.9h0M278.7 244.9h0M279.9 244.9h0M281.1 244.9h0M282.2 244.9h0M283.4 244.9h0M284.6 244.9h0M285.7 244.9h0M286.9 244.9h0M288.1 244.9h0M289.2 244.9h0M290.4 244.9h0M291.6 244.9h0M292.7 244.9h0M293.9 244.9h0M295.1 244.9h0M296.2 244.9h0M297.4 244.9h0M298.6 244.9h0M299.8 244.9h0M300.9 244.9h0M302.1 244.9h0M303.3 244.9h0M304.4 244.9h0M305.6 244.9h0M306.8 244.9h0M307.9 244.9h0M309.1 244.9h0M310.3 244.9h0M311.4 244.9h0M312.6 244.9h0M313.8 244.9h0M314.9 244.9h0M316.1 244.8h0M317.3 244.7h0M318.4 244.5h0M319.6 244.1h0M320.8 243.4h0M322.0 242.2h0M323.1 240.4h0M324.3 237.8h0M325.5 234.6h0M326.6 231.0h0M327.8 227.0h0M329.0 222.9h0M330.1 218.8h0M331.3 214.6h0M332.5 210.4h0M333.6 206.2h0M334.8 202.0h0M336.0 197.9h0M337.1 193.8h0M338.3 189.7h0M339.5 185.6h0M340.7 181.6h0M341.8 177.5h0M343.0 173.5h0M344.2 169.6h0M345.3 165.6h0M346.5 161.7h0M347.7 157.8h0M348.8 153.9h0M350.0 150.1h0M351.2 146.2h0M352.3 142.5h0M353.5 138.7h0M354.7 134.9h0M355.9 131.2h0M357.0 127.5h0M358.2 123.8h0M359.4 120.2h0M360.5 116.6h0M361.7 113.0h0M362.9 109.4h0M364.0 105.9h0M365.2 102.4h0M366.4 98.9h0M367.5 95.4h0M368.7 92.0h0M369.9 88.6h0M371.0 85.3h0M372.2 82.0h0M373.4 78.9h0M374.6 75.8h0M375.7 72.8h0M376.9 70.1h0M378.1 67.5h0M379.2 65.2h0M380.4 63.2h0M381.6 61.5h0M382.7 60.1h0M383.9 59.0h0M385.1 58.1h0M386.2 57.4h0M387.4 56.9h0M388.6 56.6h0M389.7 56.3h0M390.9 56.1h0M392.1 56.0h0M393.2 56.0h0M394.4 55.9h0M395.6 55.9h0M396.8 55.9h0M397.9 55.9h0M399.1 56.0h0M400.3 56.0h0M401.4 56.1h0M402.6 56.2h0M403.8 56.3h0M404.9 56.4h0M406.1 56.5h0M407.3 56.7h0M408.4 56.9h0M409.6 57.0h0M410.8 57.2h0M411.9 57.4h0M413.1 57.6h0M414.3 57.8h0M415.5 58.0h0M416.6 58.3h0M417.8 58.5h0M419.0 58.8h0M420.1 59.1h0M421.3 59.4h0M422.5 59.7h0M423.6 60.0h0M424.8 60.4h0M426.0 60.7h0M427.1 61.0h0M428.3 61.4h0M429.5 61.7h0M430.6 61.9h0M431.8 62.2h0M433.0 62.4h0M434.2 62.7h0M435.3 62.9h0M436.5 63.1h0M437.7 63.4h0M438.8 63.6h0M440.0 63.8h0M441.2 64.0h0M442.3 64.2h0M443.5 64.4h0M444.7 64.6h0M445.8 64.8h0M447.0 65.0h0M448.2 65.2h0M449.3 65.4h0M450.5 65.5h0M451.7 65.7h0M452.9 65.9h0M454.0 66.1h0M455.2 66.2h0M456.4 66.4h0M457.5 66.6h0M458.7 66.7h0M459.9 66.9h0M461.0 67.0h0M462.2 67.2h0M463.4 67.3h0M464.5 67.5h0M465.7 67.6h0M466.9 67.8h0M468.1 67.9h0M469.2 68.1h0M470.4 68.2h0M471.6 68.4h0M472.7 68.5h0M473.9 68.7h0M475.1 68.9h0M476.2 69.0h0M477.4 69.2h0M478.6 69.3h0M479.7 69.5h0M480.9 69.7h0M482.1 69.8h0M483.2 70.0h0M484.4 70.2h0M485.6 70.3h0M486.8 70.5h0M487.9 70.7h0M489.1 70.9h0M490.3 71.0h0M491.4 71.2h0M492.6 71.4h0M493.8 71.6h0M494.9 71.7h0M496.1 71.9h0M497.3 72.1h0M498.4 72.2h0M499.6 72.4h0M500.8 72.6h0M501.9 72.7h0M503.1 72.9h0M504.3 73.0h0M505.4 73.2h0M506.6 73.4h0M507.8 73.5h0M509.0 73.7h0M510.1 73.8h0M511.3 74.0h0M512.5 74.1h0M513.6 74.3h0M514.8 74.4h0M516.0 74.6h0M517.1 74.7h0M518.3 74.8h0M519.5 75.0h0M520.6 75.1h0M521.8 75.3h0M523.0 75.4h0M524.1 75.5h0M525.3 75.7h0M526.5 75.8h0M527.7 75.9h0M528.8 76.1h0M530.0 76.2h0M531.2 76.3h0M532.3 76.5h0M533.5 76.6h0"/></g>
</g>
<path d="M124.44 359.6v-7M182.88 359.6v-7M241.31 359.6v-7M299.75 359.6v-7M358.19 359.6v-7M416.62 359.6v-7M475.06 359.6v-7M66.0 302.27h8M66.0 244.93h8M66.0 187.60h8M66.0 130.27h8M66.0 72.93h8" stroke="#000" stroke-width="1.8" fill="none"/>
<path d="M95.22 359.6v-4M153.66 359.6v-4M212.09 359.6v-4M270.53 359.6v-4M328.97 359.6v-4M387.41 359.6v-4M445.84 359.6v-4M504.28 359.6v-4M66.0 330.93h4.6M66.0 273.60h4.6M66.0 216.27h4.6M66.0 158.93h4.6M66.0 101.60h4.6M66.0 44.27h4.6" stroke="#000" stroke-width="1.5" fill="none"/>
<rect x="66.0" y="15.6" width="467.5" height="344.0" fill="none" stroke="#000" stroke-width="1.85"/>
<g font-size="17.9"><text transform="translate(66.00,381.2) scale(1,1.06)" text-anchor="middle">-20</text><text transform="translate(124.44,381.2) scale(1,1.06)" text-anchor="middle">-15</text><text transform="translate(182.88,381.2) scale(1,1.06)" text-anchor="middle">-10</text><text transform="translate(241.31,381.2) scale(1,1.06)" text-anchor="middle">-5</text><text transform="translate(299.75,381.2) scale(1,1.06)" text-anchor="middle">0</text><text transform="translate(358.19,381.2) scale(1,1.06)" text-anchor="middle">5</text><text transform="translate(416.62,381.2) scale(1,1.06)" text-anchor="middle">10</text><text transform="translate(475.06,381.2) scale(1,1.06)" text-anchor="middle">15</text><text transform="translate(533.50,381.2) scale(1,1.06)" text-anchor="middle">20</text><text transform="translate(59,364.90) scale(1,1.06)" text-anchor="end">-100</text><text transform="translate(59,307.57) scale(1,1.06)" text-anchor="end">-50</text><text transform="translate(59,250.23) scale(1,1.06)" text-anchor="end">0</text><text transform="translate(59,192.90) scale(1,1.06)" text-anchor="end">50</text><text transform="translate(59,135.57) scale(1,1.06)" text-anchor="end">100</text><text transform="translate(59,78.23) scale(1,1.06)" text-anchor="end">150</text><text transform="translate(59,20.90) scale(1,1.06)" text-anchor="end">200</text></g>
<text transform="translate(69.6,39.5) scale(1,1.08)" font-size="19.45" stroke="#000" stroke-width="0.3">Silvaco 2D simulation (L<tspan font-size="12.6" dy="7.8" dx="-1.2">GD</tspan><tspan dy="-7.8" dx="-0.6"> 20 um)</tspan></text>
<text transform="translate(69,71.1) scale(1,1.06)" font-size="19.7" stroke="#000" stroke-width="0.3">V<tspan font-size="12.2" dy="8.2" dx="-0.3">GS</tspan><tspan dy="-8.2" dx="-0.5"> = 0 V ~ 3.5 V (0.5 V step)</tspan></text>
<text transform="translate(300.5,415.6) scale(1,1.06)" font-size="19.7" text-anchor="middle" stroke="#000" stroke-width="0.2">Drain-to-Source Voltage(V)</text>
<text transform="translate(20.6,199.4) rotate(-90) scale(1.065,1)" font-size="16" text-anchor="middle" stroke="#000" stroke-width="0.2">Drain current (mA/mm)</text>
<rect x="263.4" y="312.4" width="265.2" height="43.4" fill="#fff" stroke="#3a3a3a" stroke-width="1.4"/>
<rect x="276.2" y="323.4" width="7.8" height="7.8" fill="#000"/>
<rect x="276.2" y="343.6" width="7.8" height="7.8" fill="#f00"/>
<text transform="translate(298.3,331.4) scale(1,1.06)" font-size="16.1" stroke="#000" stroke-width="0.15">p-GaN gate AlGaN/GaN HFET</text>
<text transform="translate(298.3,351.1) scale(1,1.06)" font-size="16.1" stroke="#000" stroke-width="0.15">unidirectioanl HFET</text>
</svg>
</body></html>
